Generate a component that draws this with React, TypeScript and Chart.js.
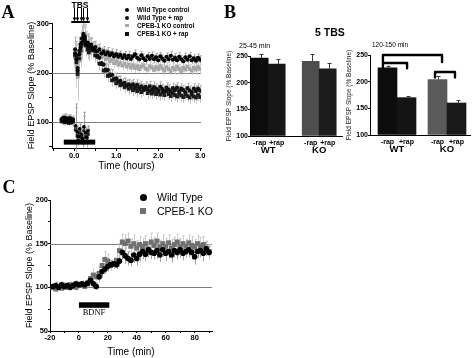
import { useEffect, useRef } from "react";
import { Chart, registerables } from "chart.js";
Chart.register(...registerables);

const SANS = '"Liberation Sans", Arial, Helvetica, sans-serif';
const SERIF = '"Liberation Serif", "Times New Roman", Times, serif';

// ---------------- Panel A : LTP after 5 TBS (hours) ----------------
const tA = [
  -0.3, -0.27, -0.23, -0.2, -0.17, -0.13, -0.1, -0.07, -0.03,
  0.02, 0.05, 0.08, 0.12, 0.15, 0.18, 0.22, 0.25, 0.28, 0.32, 0.35,
  0.4, 0.45, 0.5, 0.55, 0.6, 0.65, 0.7, 0.75, 0.8, 0.85,
  0.9, 0.95, 1.0, 1.05, 1.1, 1.15, 1.2, 1.25, 1.3, 1.35,
  1.4, 1.45, 1.5, 1.55, 1.6, 1.65, 1.7, 1.75, 1.8, 1.85,
  1.9, 1.95, 2.0, 2.05, 2.1, 2.15, 2.2, 2.25, 2.3, 2.35,
  2.4, 2.45, 2.5, 2.55, 2.6, 2.65, 2.7, 2.75, 2.8, 2.85,
  2.9, 2.95, 3.0,
];
const wtCtrlA = [
  104, 108, 102, 106, 101, 107, 103, 99, 105,
  240, 228, 205, 238, 252, 262, 276, 268, 258, 262, 255,
  258, 250, 253, 245, 248, 240, 244, 238, 242, 236,
  240, 234, 238, 233, 237, 231, 236, 230, 235, 229,
  234, 238, 231, 228, 236, 230, 226, 234, 229, 235,
  228, 232, 226, 234, 229, 225, 233, 228, 235, 227,
  231, 226, 233, 228, 224, 232, 227, 234, 226, 230,
  225, 231, 227,
];
const wtCtrlErrA = [
  5, 7, 4, 6, 5, 8, 6, 5, 7,
  22, 28, 35, 26, 20, 24, 22, 25, 20, 18, 16,
  14, 13, 12, 12, 11, 11, 10, 10, 10, 9,
  9, 9, 10, 9, 8, 9, 8, 8, 9, 8,
  8, 9, 8, 8, 8, 9, 8, 8, 8, 8,
  9, 8, 8, 8, 8, 9, 8, 8, 8, 8,
  9, 8, 8, 8, 8, 9, 8, 8, 8, 8,
  9, 8, 8,
];
const koCtrlA = [
  100, 104, 98, 102, 106, 99, 103, 101, 97,
  232, 215, 192, 225, 240, 255, 268, 272, 260, 250, 246,
  252, 245, 247, 239, 241, 233, 236, 228, 231, 224,
  227, 220, 224, 217, 221, 215, 219, 213, 217, 211,
  216, 210, 214, 208, 213, 216, 209, 207, 214, 211,
  206, 212, 208, 214, 209, 205, 212, 208, 204, 211,
  207, 213, 208, 204, 211, 207, 213, 208, 205, 211,
  207, 212, 208,
];
const koCtrlErrA = [
  6, 5, 7, 4, 6, 8, 5, 7, 6,
  30, 45, 50, 35, 28, 30, 26, 28, 24, 22, 20,
  16, 15, 14, 13, 13, 12, 12, 11, 11, 11,
  10, 10, 10, 10, 9, 10, 9, 9, 10, 9,
  9, 10, 9, 9, 9, 10, 9, 9, 9, 9,
  10, 9, 9, 9, 9, 10, 9, 9, 9, 9,
  10, 9, 9, 9, 9, 10, 9, 9, 9, 9,
  10, 9, 9,
];
const wtRapA = [
  106, 102, 109, 104, 100, 105, 108, 102, 104,
  248, 235, 210, 245, 258, 270, 280, 275, 262, 255, 250,
  254, 246, 245, 235, 231, 220, 217, 207, 206, 197,
  196, 188, 189, 183, 184, 178, 180, 175, 177, 174,
  177, 171, 176, 170, 173, 168, 172, 167, 173, 166,
  171, 168, 165, 172, 167, 163, 170, 166, 162, 169,
  165, 170, 163, 168, 165, 161, 169, 164, 161, 168,
  163, 168, 164,
];
const wtRapErrA = [
  7, 5, 8, 6, 5, 7, 6, 5, 6,
  25, 30, 38, 28, 24, 26, 22, 24, 22, 20, 18,
  15, 15, 14, 14, 13, 13, 12, 12, 12, 11,
  11, 11, 11, 10, 10, 10, 10, 10, 10, 10,
  10, 10, 10, 10, 10, 10, 10, 10, 10, 10,
  11, 10, 10, 10, 10, 11, 10, 10, 10, 10,
  11, 10, 10, 10, 10, 11, 10, 10, 10, 10,
  11, 10, 10,
];
const koRapA = [
  102, 106, 100, 108, 103, 98, 104, 106, 101,
  236, 222, 198, 230, 246, 258, 266, 270, 256, 248, 242,
  248, 247, 236, 233, 219, 218, 205, 205, 194, 195,
  185, 187, 179, 182, 175, 177, 171, 174, 168, 170,
  165, 169, 163, 167, 161, 165, 167, 159, 163, 158,
  162, 157, 161, 156, 160, 155, 163, 157, 153, 159,
  155, 152, 158, 154, 151, 157, 153, 150, 156, 152,
  150, 155, 151,
];
const koRapErrA = [
  6, 8, 5, 7, 6, 5, 7, 6, 5,
  28, 35, 42, 30, 26, 28, 24, 26, 22, 20, 18,
  16, 16, 15, 15, 14, 14, 14, 13, 13, 13,
  13, 12, 12, 12, 12, 12, 12, 12, 12, 12,
  12, 12, 12, 12, 12, 12, 12, 12, 12, 12,
  12, 12, 12, 12, 12, 12, 12, 12, 12, 12,
  12, 12, 12, 12, 12, 12, 12, 12, 12, 12,
  12, 12, 12,
];
// responses recorded during the TBS trains
const tDipA = [0.03, 0.07, 0.1, 0.13, 0.17, 0.2, 0.23, 0.27, 0.3, 0.33];
const dipWtA = [92, 80, 70, 86, 74, 66, 90, 78, 68, 82];
const dipKoA = [84, 72, 62, 78, 68, 58, 82, 70, 60, 75];
const dipErrA = [45, 12, 10, 10, 8, 10, 30, 10, 12, 10];
const tbsTimesA = [0, 0.07, 0.15, 0.22, 0.3];
const rapBarA = [-0.25, 0.5];
const rapBarLevelA = 59;
const refLinesA = [100, 200];
const xTicksA = [-0.5, 0, 0.5, 1, 1.5, 2, 2.5, 3];
const yTicksA = [50, 100, 150, 200, 250, 300];

// ---------------- Panel B : bar summaries ----------------
const barLabelsB = ["-rap", "+rap", "-rap", "+rap"];
const groupLabelsB = ["WT", "KO"];
const earlyB = [246, 235, 240, 226]; // 25-45 min
const earlyErrB = [7, 9, 13, 11];
const lateB = [226, 170, 204, 160]; // 120-150 min
const lateErrB = [4, 3, 6, 5];
const posEarlyB = [1, 2, 4, 5];
const posLateB = [1, 2, 3.63, 4.63];
const yTicksB = [100, 150, 200, 250];
// [x from, x to, top level, leg level]
const bracketsLateB = [
  [0.76, 3.87, 250, 237],
  [0.76, 2.03, 235, 225],
  [3.5, 4.55, 218, 208],
];

// ---------------- Panel C : BDNF LTP (minutes) ----------------
const tC = [
  -18, -16, -14, -12, -10, -8, -6, -4, -2, 0,
  2, 4, 6, 8, 10, 12, 14, 16, 18, 20,
  22, 24, 26, 28, 30, 32, 34, 36, 38, 40,
  42, 44, 46, 48, 50, 52, 54, 56, 58, 60,
  62, 64, 66, 68, 70, 72, 74, 76, 78, 80,
  82, 84, 86, 88, 90,
];
const wtC = [
  101, 102, 100, 103, 101, 102, 100, 102, 104, 103,
  104, 103, 105, 108, 104, 101, 112, 118, 121, 124,
  126, 127, 126, 130, 140, 136, 133, 131, 137, 133,
  138, 141, 138, 143, 140, 139, 142, 137, 143, 139,
  141, 137, 142, 140, 143, 139, 141, 143, 140, 135,
  141, 142, 139, 144, 140,
];
const wtErrC = [
  3, 4, 3, 3, 4, 3, 3, 4, 3, 3,
  3, 4, 4, 5, 6, 4, 6, 7, 6, 6,
  5, 4, 5, 6, 8, 9, 8, 7, 9, 8,
  8, 9, 8, 9, 8, 7, 9, 8, 8, 9,
  8, 9, 8, 8, 9, 8, 7, 9, 8, 9,
  8, 8, 9, 8, 7,
];
const koC = [
  100, 98, 101, 99, 102, 100, 103, 101, 100, 102,
  103, 101, 104, 110, 114, 112, 116, 125, 132, 130,
  125, 127, 131, 142, 152, 150, 153, 147, 150, 145,
  149, 146, 150, 144, 152, 148, 153, 146, 150, 147,
  151, 145, 149, 152, 146, 150, 147, 151, 148, 146,
  150, 147, 149, 145, 141,
];
const koErrC = [
  3, 3, 4, 3, 3, 4, 3, 3, 4, 3,
  4, 3, 4, 6, 7, 5, 7, 8, 9, 8,
  6, 6, 7, 8, 9, 10, 9, 8, 10, 9,
  9, 10, 9, 8, 10, 9, 9, 8, 10, 9,
  9, 10, 8, 9, 10, 9, 8, 9, 10, 9,
  9, 10, 9, 8, 8,
];
const bdnfBarC = [0, 21];
const bdnfLevelC = 80;
const refLinesC = [100, 150];
const xTicksC = [-20, -10, 0, 10, 20, 30, 40, 50, 60, 70, 80, 90];
const yTicksC = [50, 75, 100, 125, 150, 175, 200];

// ---------------- helpers ----------------
const pts = (xs: number[], ys: number[]) => xs.map((x, i) => ({ x, y: ys[i] }));

const baseOptions = (padding: any) => ({
  responsive: false,
  animation: false,
  devicePixelRatio: 1,
  events: [],
  layout: { padding },
  plugins: { legend: { display: false }, tooltip: { enabled: false }, title: { display: false } },
});

function drawErrors(chart: any) {
  const { ctx, scales } = chart;
  const y = scales.y;
  chart.data.datasets.forEach((ds: any, i: number) => {
    if (!ds.errs) return;
    const meta = chart.getDatasetMeta(i);
    ctx.strokeStyle = ds.errColor || "#999";
    ctx.lineWidth = 0.8;
    ctx.beginPath();
    meta.data.forEach((el: any, j: number) => {
      const v = ds.data[j].y;
      const e = ds.errs[j];
      const px = Math.round(el.x) + 0.5;
      const y1 = y.getPixelForValue(v + e);
      const y2 = y.getPixelForValue(v - e);
      ctx.moveTo(px, y1);
      ctx.lineTo(px, y2);
      ctx.moveTo(px - 1, y1);
      ctx.lineTo(px + 1.5, y1);
    });
    ctx.stroke();
  });
}

function drawRefLines(chart: any, values: number[]) {
  const { ctx, chartArea: ca, scales } = chart;
  ctx.strokeStyle = "#808080";
  ctx.lineWidth = 1.2;
  values.forEach((v) => {
    const py = Math.round(scales.y.getPixelForValue(v)) + 0.5;
    ctx.beginPath();
    ctx.moveTo(ca.left, py);
    ctx.lineTo(ca.right, py);
    ctx.stroke();
  });
}

const axisCommon = (tickLen: number) => ({
  grid: { display: true, drawOnChartArea: false, drawTicks: true, tickLength: tickLen, color: "#000", lineWidth: 1 },
  border: { display: true, color: "#000", width: 1 },
});

// ---------------- chart configs ----------------
function makeA(): any {
  const plugin = {
    id: "panelA",
    beforeDatasetsDraw(chart: any) {
      const { ctx } = chart;
      ctx.save();
      drawRefLines(chart, refLinesA);
      drawErrors(chart);
      ctx.restore();
    },
    afterDatasetsDraw(chart: any) {
      const { ctx, scales } = chart;
      const { x, y } = scales;
      ctx.save();
      // rapamycin bar
      const yb = y.getPixelForValue(rapBarLevelA);
      ctx.fillStyle = "#000";
      const x1 = x.getPixelForValue(rapBarA[0]);
      const x2 = x.getPixelForValue(rapBarA[1]);
      ctx.fillRect(x1, yb - 2.5, x2 - x1, 5);
      // TBS arrows
      ctx.strokeStyle = "#000";
      ctx.lineWidth = 1;
      tbsTimesA.forEach((t) => {
        const px = Math.round(x.getPixelForValue(t)) + 0.5;
        ctx.beginPath();
        ctx.moveTo(px, 8);
        ctx.lineTo(px, 19);
        ctx.stroke();
        ctx.beginPath();
        ctx.moveTo(px - 1.8, 17.5);
        ctx.lineTo(px + 1.8, 17.5);
        ctx.lineTo(px, 21.5);
        ctx.closePath();
        ctx.fill();
      });
      const bx1 = x.getPixelForValue(tbsTimesA[0]) - 3;
      const bx2 = x.getPixelForValue(tbsTimesA[tbsTimesA.length - 1]) + 3;
      ctx.fillRect(bx1, 21, bx2 - bx1, 2);
      ctx.restore();
    },
  };
  const ds = (label: string, xs: number[], ys: number[], errs: number[], style: string, r: number, color: string, errColor: string) => ({
    label,
    data: pts(xs, ys),
    errs,
    errColor,
    pointStyle: style,
    pointRadius: r,
    backgroundColor: color,
    borderColor: color,
    borderWidth: 0,
  });
  return {
    type: "scatter",
    data: {
      datasets: [
        ds("Wild Type control", tA, wtCtrlA, wtCtrlErrA, "circle", 2.1, "#000", "#9a9a9a"),
        ds("Wild Type + rap", tA, wtRapA, wtRapErrA, "circle", 2.1, "#111", "#a4a4a4"),
        ds("CPEB-1 KO + rap", tA, koRapA, koRapErrA, "rect", 2.7, "#1c1c1c", "#b4b4b4"),
        ds("CPEB-1 KO control", tA, koCtrlA, koCtrlErrA, "rect", 2.6, "#a6a6a6", "#c8c8c8"),
        ds("Wild Type (during TBS)", tDipA, dipWtA, dipErrA, "circle", 1.9, "#000", "#8a8a8a"),
        ds("CPEB-1 KO (during TBS)", tDipA, dipKoA, dipErrA, "rect", 2.3, "#222", "#9a9a9a"),
      ],
    },
    options: {
      ...baseOptions({ left: 22, top: 23, right: 273, bottom: 182 }),
      scales: {
        x: {
          type: "linear",
          min: -0.53,
          max: 3.02,
          afterBuildTicks: (s: any) => {
            s.ticks = xTicksA.map((v) => ({ value: v }));
          },
          afterFit: (s: any) => {
            s.height = 28;
          },
          ...axisCommon(3),
          ticks: {
            autoSkip: false,
            maxRotation: 0,
            padding: 0,
            color: "#000",
            font: { family: SANS, size: 7.5, weight: "bold" },
            callback: (v: number) => (Number.isInteger(v) ? v.toFixed(1) : ""),
          },
          title: { display: true, text: "Time (hours)", color: "#000", font: { family: SANS, size: 10 }, padding: { top: 4, bottom: 4 } },
        },
        y: {
          type: "linear",
          min: 47,
          max: 302,
          afterBuildTicks: (s: any) => {
            s.ticks = yTicksA.map((v) => ({ value: v }));
          },
          afterFit: (s: any) => {
            s.width = 30;
          },
          ...axisCommon(3),
          ticks: {
            autoSkip: false,
            padding: 0,
            color: "#000",
            font: { family: SANS, size: 7.5, weight: "bold" },
            callback: (v: number) => (v % 100 === 0 ? String(v) : ""),
          },
          title: { display: true, text: "Field EPSP Slope (% Baseline)", color: "#000", font: { family: SANS, size: 9.2 }, padding: { top: 4, bottom: 4 } },
        },
      },
    },
    plugins: [plugin],
  };
}

function makeBar(values: number[], errs: number[], pos: number[], colors: string[], xmin: number, xmax: number, padding: any, brackets: number[][] | null): any {
  const plugin = {
    id: "barExtras",
    afterDatasetsDraw(chart: any) {
      const { ctx, scales, chartArea } = chart;
      const { x, y } = scales;
      const meta = chart.getDatasetMeta(0);
      ctx.save();
      ctx.strokeStyle = "#3a3a3a";
      ctx.lineWidth = 1;
      meta.data.forEach((el: any, j: number) => {
        const top = y.getPixelForValue(values[j]);
        const up = y.getPixelForValue(values[j] + errs[j]);
        const px = Math.round(el.x) + 1.5;
        ctx.beginPath();
        ctx.moveTo(px, top);
        ctx.lineTo(px, up);
        ctx.moveTo(px - 2, Math.round(up) + 0.5);
        ctx.lineTo(px + 2, Math.round(up) + 0.5);
        ctx.stroke();
      });
      ctx.fillStyle = "#000";
      ctx.font = `bold 9.5px ${SANS}`;
      ctx.textAlign = "center";
      ctx.textBaseline = "middle";
      groupLabelsB.forEach((g, k) => {
        const cx = (x.getPixelForValue(pos[2 * k]) + x.getPixelForValue(pos[2 * k + 1])) / 2;
        ctx.fillText(g, cx, chartArea.bottom + 14.5);
      });
      if (brackets) {
        ctx.lineWidth = 2.4;
        ctx.lineJoin = "round";
        ctx.lineCap = "round";
        brackets.forEach(([a, b, top, leg]) => {
          const xa = x.getPixelForValue(a);
          const xb = x.getPixelForValue(b);
          const yt = y.getPixelForValue(top);
          const yl = y.getPixelForValue(leg);
          ctx.strokeStyle = "#000";
          ctx.beginPath();
          ctx.moveTo(xa, yl);
          ctx.lineTo(xa, yt);
          ctx.lineTo(xb, yt);
          ctx.lineTo(xb, yl);
          ctx.stroke();
        });
      }
      ctx.restore();
    },
  };
  return {
    type: "bar",
    data: {
      datasets: [
        {
          label: "Field EPSP slope",
          data: pts(pos, values),
          backgroundColor: colors,
          borderWidth: 0,
          barPercentage: 1,
          categoryPercentage: 1,
          base: 100,
        },
      ],
    },
    options: {
      ...baseOptions(padding),
      scales: {
        x: {
          type: "linear",
          min: xmin,
          max: xmax,
          offset: false,
          afterBuildTicks: (s: any) => {
            s.ticks = pos.map((v) => ({ value: v }));
          },
          afterFit: (s: any) => {
            s.height = 22;
          },
          grid: { display: false, drawTicks: false, tickLength: 0, offset: false },
          border: { display: true, color: "#000", width: 1 },
          ticks: {
            autoSkip: false,
            maxRotation: 0,
            padding: 3,
            color: "#000",
            font: { family: SANS, size: 7, weight: "bold" },
            callback: (_v: number, i: number) => barLabelsB[i],
          },
        },
        y: {
          type: "linear",
          min: 100,
          max: 250,
          afterBuildTicks: (s: any) => {
            s.ticks = yTicksB.map((v) => ({ value: v }));
          },
          afterFit: (s: any) => {
            s.width = 26;
          },
          ...axisCommon(2),
          ticks: { autoSkip: false, padding: 0, color: "#000", font: { family: SANS, size: 7, weight: "bold" } },
          title: { display: true, text: "Field EPSP Slope (% Baseline)", color: "#222", font: { family: SANS, size: 6.5 }, padding: { top: 1, bottom: 1 } },
        },
      },
    },
    plugins: [plugin],
  };
}

function makeC(): any {
  const plugin = {
    id: "panelC",
    beforeDatasetsDraw(chart: any) {
      const { ctx } = chart;
      ctx.save();
      drawRefLines(chart, refLinesC);
      drawErrors(chart);
      ctx.restore();
    },
    afterDatasetsDraw(chart: any) {
      const { ctx, scales } = chart;
      const { x, y } = scales;
      ctx.save();
      ctx.fillStyle = "#000";
      const x1 = x.getPixelForValue(bdnfBarC[0]);
      const x2 = x.getPixelForValue(bdnfBarC[1]);
      const yb = y.getPixelForValue(bdnfLevelC);
      ctx.fillRect(x1, yb - 2.5, x2 - x1, 5.5);
      ctx.restore();
    },
  };
  return {
    type: "scatter",
    data: {
      datasets: [
        { label: "Wild Type", data: pts(tC, wtC), errs: wtErrC, errColor: "#8a8a8a", pointStyle: "circle", pointRadius: 2.8, backgroundColor: "#000", borderColor: "#000", borderWidth: 0 },
        { label: "CPEB-1 KO", data: pts(tC, koC), errs: koErrC, errColor: "#c2c2c2", pointStyle: "rect", pointRadius: 3.5, backgroundColor: "#707070", borderColor: "#707070", borderWidth: 0 },
      ],
    },
    options: {
      ...baseOptions({ left: 20, top: 200, right: 262, bottom: 0 }),
      scales: {
        x: {
          type: "linear",
          min: -20,
          max: 92,
          afterBuildTicks: (s: any) => {
            s.ticks = xTicksC.map((v) => ({ value: v }));
          },
          afterFit: (s: any) => {
            s.height = 27;
          },
          ...axisCommon(2),
          ticks: {
            autoSkip: false,
            maxRotation: 0,
            padding: 0,
            color: "#000",
            font: { family: SANS, size: 7.5, weight: "bold" },
            callback: (v: number) => (v % 20 === 0 ? String(v) : ""),
          },
          title: { display: true, text: "Time (min)", color: "#000", font: { family: SANS, size: 10 }, padding: { top: 2, bottom: 0 } },
        },
        y: {
          type: "linear",
          min: 50,
          max: 200,
          afterBuildTicks: (s: any) => {
            s.ticks = yTicksC.map((v) => ({ value: v }));
          },
          afterFit: (s: any) => {
            s.width = 30;
          },
          ...axisCommon(2),
          ticks: {
            autoSkip: false,
            padding: 0,
            color: "#000",
            font: { family: SANS, size: 7.5, weight: "bold" },
            callback: (v: number) => (v % 50 === 0 ? String(v) : ""),
          },
          title: { display: true, text: "Field EPSP Slope (% Baseline)", color: "#000", font: { family: SANS, size: 9 }, padding: { top: 4, bottom: 4 } },
        },
      },
    },
    plugins: [plugin],
  };
}

// ---------------- overlay text ----------------
function Txt(props: { x: number; y: number; s: string; size: number; weight?: number; family?: string; align?: string; color?: string }) {
  const { x, y, s, size, weight = 400, family = SANS, align = "left", color = "#000" } = props;
  const tx = align === "center" ? "-50%" : align === "right" ? "-100%" : "0";
  return (
    <div
      style={{
        position: "absolute",
        left: x,
        top: y,
        transform: `translate(${tx}, -50%)`,
        fontSize: size,
        fontWeight: weight,
        fontFamily: family,
        lineHeight: 1,
        whiteSpace: "nowrap",
        color,
      }}
    >
      {s}
    </div>
  );
}

function Mark(props: { x: number; y: number; d: number; round: boolean; color: string }) {
  const { x, y, d, round, color } = props;
  return (
    <div
      style={{
        position: "absolute",
        left: x - d / 2,
        top: y - d / 2,
        width: d,
        height: d,
        borderRadius: round ? "50%" : 0,
        background: color,
      }}
    />
  );
}

const legendA = [
  { s: "Wild Type control", y: 9.5, round: true, color: "#000", d: 4 },
  { s: "Wild Type + rap", y: 17.5, round: true, color: "#111", d: 4 },
  { s: "CPEB-1 KO control", y: 25.5, round: false, color: "#a6a6a6", d: 3.5 },
  { s: "CPEB-1 KO + rap", y: 33.5, round: false, color: "#111", d: 4 },
];
const legendC = [
  { s: "Wild Type", y: 197, round: true, color: "#000", d: 7 },
  { s: "CPEB-1 KO", y: 211, round: false, color: "#707070", d: 6.5 },
];

export default function App() {
  const refA = useRef<HTMLCanvasElement>(null);
  const refB1 = useRef<HTMLCanvasElement>(null);
  const refB2 = useRef<HTMLCanvasElement>(null);
  const refC = useRef<HTMLCanvasElement>(null);

  useEffect(() => {
    const charts: Chart[] = [];
    charts.push(new Chart(refA.current as HTMLCanvasElement, makeA()));
    charts.push(
      new Chart(
        refB1.current as HTMLCanvasElement,
        makeBar(earlyB, earlyErrB, posEarlyB, ["#0c0c0c", "#161616", "#4e4e4e", "#1c1c1c"], 0.43, 5.84, { left: 224, top: 56, right: 132, bottom: 200 }, null)
      )
    );
    charts.push(
      new Chart(
        refB2.current as HTMLCanvasElement,
        makeBar(lateB, lateErrB, posLateB, ["#0c0c0c", "#141414", "#5a5a5a", "#1a1a1a"], 0.08, 5.34, { left: 344, top: 55, right: 4, bottom: 201 }, bracketsLateB)
      )
    );
    charts.push(new Chart(refC.current as HTMLCanvasElement, makeC()));
    return () => charts.forEach((c) => c.destroy());
  }, []);

  const cv = { position: "absolute" as const, left: 0, top: 0, width: 474, height: 358 };
  return (
    <div style={{ position: "absolute", left: 0, top: 0, width: 474, height: 358, background: "#fff", overflow: "hidden" }}>
      <canvas ref={refA} width={474} height={358} style={cv} />
      <canvas ref={refB1} width={474} height={358} style={cv} />
      <canvas ref={refB2} width={474} height={358} style={cv} />
      <canvas ref={refC} width={474} height={358} style={cv} />

      <Txt x={8} y={12} s="A" size={18} weight={700} family={SERIF} align="center" />
      <Txt x={230} y={12} s="B" size={18} weight={700} family={SERIF} align="center" />
      <Txt x={9} y={187} s="C" size={18} weight={700} family={SERIF} align="center" />

      <Txt x={80} y={5} s="TBS" size={8.5} weight={700} align="center" />
      {legendA.map((l) => (
        <div key={l.s}>
          <Mark x={127} y={l.y} d={l.d} round={l.round} color={l.color} />
          <Txt x={137} y={l.y} s={l.s} size={6.3} weight={700} />
        </div>
      ))}

      <Txt x={330} y={32} s="5 TBS" size={10.5} weight={700} align="center" />
      <Txt x={239} y={44.5} s="25-45 min" size={7} />
      <Txt x={372} y={45} s="120-150 min" size={6.5} />

      {legendC.map((l) => (
        <div key={l.s}>
          <Mark x={143} y={l.y} d={l.d} round={l.round} color={l.color} />
          <Txt x={157} y={l.y} s={l.s} size={10.5} />
        </div>
      ))}
      <Txt x={94} y={312} s="BDNF" size={8.5} family={SERIF} align="center" />
    </div>
  );
}
